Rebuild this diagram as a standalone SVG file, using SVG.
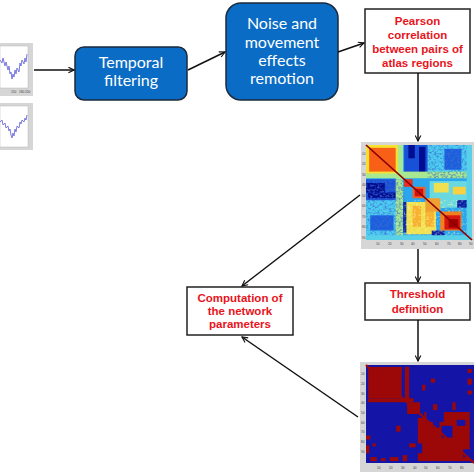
<svg xmlns="http://www.w3.org/2000/svg" width="474" height="474" viewBox="0 0 474 474">
<defs>
<marker id="ah" viewBox="0 0 10 10" refX="9" refY="5" markerWidth="7" markerHeight="7" orient="auto" markerUnits="userSpaceOnUse">
<path d="M1,1 L9,5 L1,9" fill="none" stroke="#111" stroke-width="1.6"/>
</marker>
<filter id="speck" x="0" y="0" width="100%" height="100%" filterUnits="objectBoundingBox">
<feTurbulence type="fractalNoise" baseFrequency="0.45" numOctaves="2" seed="7"/>
<feColorMatrix type="matrix" values="0 0 0 0 0.05  0 0 0 0 0.15  0 0 0 0 0.6  2.6 0 0 0 -1.1"/>
</filter>
<filter id="speck2" x="0" y="0" width="100%" height="100%" filterUnits="objectBoundingBox">
<feTurbulence type="fractalNoise" baseFrequency="0.4" numOctaves="2" seed="11"/>
<feColorMatrix type="matrix" values="0 0 0 0 1  0 0 0 0 0.95  0 0 0 0 0.4  0 2.6 0 0 -1.3"/>
</filter>
<style>
.blue{fill:#0a6cc4;stroke:#1b2a3c;stroke-width:1.5}
.wt{fill:#fff;font-family:Lato,"Open Sans",sans-serif;font-size:16px;text-anchor:middle}
.red{fill:#fff;stroke:#222;stroke-width:1.5}
.rt{fill:#e8141c;font-family:"Liberation Sans",Arial,sans-serif;font-weight:bold;font-size:11.5px;text-anchor:middle}
.con{stroke:#111;stroke-width:1.5;fill:none;marker-end:url(#ah)}
.tk{font-family:"Liberation Sans",Arial,sans-serif;font-size:3.2px;fill:#444}
.frame{fill:#d6d6d6}
</style>
</defs>
<rect width="474" height="474" fill="#fff"/>

<g id="signals">
<rect class="frame" x="0" y="43" width="33" height="53"/>
<rect x="0" y="46" width="28" height="42" fill="#fff" stroke="#aaa" stroke-width="0.4"/>
<polyline points="0,60 2,63 3,58 5,66 6,62 8,70 9,66 10,74 11,72 12,79 13,74 14,77 15,70 16,74 17,68 19,72 20,63 21,66 22,60 24,64 25,58 26,62 27,54" fill="none" stroke="#7878e0" stroke-width="1"/>
<text class="tk" x="11" y="93">150</text><text class="tk" x="19" y="93">180</text><text class="tk" x="25" y="93">200</text>
<rect class="frame" x="0" y="103" width="33" height="47"/>
<rect x="0" y="106" width="28" height="41" fill="#fff" stroke="#aaa" stroke-width="0.4"/>
<polyline points="0,122 2,120 3,125 5,123 6,128 8,126 9,131 10,129 11,135 12,138 13,133 14,136 15,129 16,132 17,126 19,128 20,122 21,124 22,120 24,122 25,118 26,120 27,115" fill="none" stroke="#7878e0" stroke-width="1"/>
</g>

<g id="temporal">
<rect class="blue" x="75" y="47" width="112" height="53" rx="9"/>
<text class="wt" x="131" y="68">Temporal</text>
<text class="wt" x="131" y="86">filtering</text>
</g>

<g id="noise">
<rect class="blue" x="226" y="3" width="112" height="97" rx="15"/>
<text class="wt" x="282" y="29">Noise and</text>
<text class="wt" x="282" y="48">movement</text>
<text class="wt" x="282" y="66">effects</text>
<text class="wt" x="282" y="84">remotion</text>
</g>

<g id="pearson">
<rect class="red" x="365" y="9" width="105" height="64"/>
<text class="rt" x="417.5" y="25">Pearson</text>
<text class="rt" x="417.5" y="39">correlation</text>
<text class="rt" x="417.5" y="53">between pairs of</text>
<text class="rt" x="417.5" y="67">atlas regions</text>
</g>

<g id="corr-matrix">
<rect class="frame" x="361" y="142" width="113" height="107"/>
<g transform="translate(366,145) scale(1.06,0.95)">
<rect width="100" height="100" fill="#2aa6ee"/>
<rect x="58" y="0" width="42" height="34" fill="#4ccdf2"/>
<rect x="0" y="58" width="34" height="42" fill="#4ccdf2"/>
<rect x="74" y="4" width="16" height="22" fill="#1a5ee0"/>
<rect x="4" y="74" width="22" height="16" fill="#1a5ee0"/>
<rect x="36" y="0" width="22" height="32" fill="#1850d8"/>
<rect x="0" y="36" width="32" height="22" fill="#1850d8"/>
<rect x="50" y="2" width="6" height="28" fill="#000c92"/>
<rect x="2" y="50" width="28" height="6" fill="#000c92"/>
<rect x="0" y="40" width="18" height="10" fill="#000c92"/>
<rect x="40" y="0" width="6" height="14" fill="#000c92"/>
<rect x="60" y="38" width="36" height="28" fill="#6ad8e0"/>
<rect x="38" y="60" width="28" height="34" fill="#f0e050"/>
<rect x="64" y="40" width="14" height="10" fill="#f0e050"/>
<rect x="82" y="44" width="12" height="8" fill="#f8d040"/>
<rect x="44" y="64" width="8" height="22" fill="#f8b030"/>
<rect x="56" y="66" width="8" height="20" fill="#f8b030"/>
<rect x="30" y="60" width="8" height="32" fill="#0a22a8"/>
<rect x="62" y="90" width="12" height="8" fill="#0a22a8"/>
<rect x="86" y="58" width="10" height="8" fill="#0a22a8"/>
<rect x="0" y="28" width="100" height="7" fill="#a8e890"/>
<rect x="28" y="0" width="7" height="100" fill="#a8e890"/>
<rect x="58" y="0" width="42" height="34" fill="#000" filter="url(#speck)" opacity="0.8"/>
<rect x="0" y="36" width="36" height="64" fill="#000" filter="url(#speck)" opacity="0.8"/>
<rect x="36" y="58" width="64" height="42" fill="#000" filter="url(#speck2)" opacity="0.7"/>
<rect x="0" y="0" width="30" height="30" fill="#f8e030"/>
<rect x="3" y="3" width="25" height="25" fill="#f86018"/>
<rect x="36" y="36" width="8" height="8" fill="#e83020"/>
<rect x="44" y="44" width="12" height="12" fill="#f06020"/>
<rect x="46" y="46" width="8" height="8" fill="#d01010"/>
<rect x="56" y="56" width="14" height="14" fill="#f0a030"/>
<rect x="70" y="70" width="20" height="20" fill="#f08020"/>
<rect x="74" y="74" width="15" height="15" fill="#d81810"/>
<rect x="78" y="78" width="9" height="9" fill="#a00000"/>
<rect x="0" y="95" width="100" height="5" fill="#58d0e8"/>
<rect x="95" y="0" width="5" height="100" fill="#58d0e8"/>
<line x1="0" y1="0" x2="100" y2="100" stroke="#8c0000" stroke-width="1.6"/>
</g>
<g class="tk">
<text x="362" y="155">10</text><text x="362" y="165">20</text><text x="362" y="176">30</text><text x="362" y="186">40</text><text x="362" y="197">50</text><text x="362" y="207">60</text><text x="362" y="218">70</text><text x="362" y="228">80</text><text x="362" y="239">90</text>
<text x="376" y="245">10</text><text x="388" y="245">20</text><text x="400" y="245">30</text><text x="411" y="245">40</text><text x="423" y="245">50</text><text x="435" y="245">60</text><text x="447" y="245">70</text><text x="458" y="245">80</text><text x="469" y="245">90</text>
</g>
</g>

<g id="threshold">
<rect class="red" x="365" y="283" width="105" height="37"/>
<text class="rt" x="417.5" y="298">Threshold</text>
<text class="rt" x="417.5" y="313">definition</text>
</g>

<g id="binary-matrix">
<rect class="frame" x="360" y="362" width="114" height="110"/>
<g transform="translate(366,365) scale(1.08,0.98)">
<rect width="100" height="100" fill="#1414a6"/>
<g fill="#9c0808">
<rect x="2" y="2" width="31" height="32"/>
<rect x="2" y="34" width="42" height="4"/>
<rect x="36" y="2" width="4" height="36"/>
<rect x="38" y="38" width="12" height="12"/>
<rect x="48" y="48" width="48" height="50"/>
<rect x="44" y="44" width="6" height="6"/>
<rect x="30" y="2" width="3" height="6"/>
<rect x="94" y="4" width="4" height="4"/>
<rect x="94" y="14" width="4" height="6"/>
<rect x="94" y="26" width="4" height="4"/>
<rect x="0" y="72" width="4" height="4"/>
<rect x="0" y="82" width="3" height="8"/>
<rect x="4" y="94" width="6" height="4"/>
<rect x="14" y="95" width="4" height="3"/>
<rect x="22" y="94" width="8" height="4"/>
<rect x="34" y="92" width="4" height="6"/>
<rect x="28" y="62" width="4" height="6"/>
<rect x="6" y="80" width="3" height="3"/>
<rect x="40" y="80" width="6" height="4"/>
<rect x="62" y="40" width="4" height="6"/>
<rect x="80" y="38" width="3" height="8"/>
<rect x="60" y="14" width="4" height="4"/>
<rect x="52" y="20" width="3" height="6"/>
</g>
<g fill="#1414a6">
<rect x="56" y="48" width="16" height="10"/>
<rect x="62" y="58" width="6" height="6"/>
<rect x="70" y="62" width="10" height="12"/>
<rect x="48" y="48" width="6" height="6"/>
<rect x="84" y="56" width="8" height="6"/>
<rect x="90" y="86" width="6" height="8"/>
<rect x="48" y="80" width="4" height="10"/>
</g>
<line x1="0" y1="0" x2="100" y2="100" stroke="#9c0808" stroke-width="2"/>
</g>
<g class="tk">
<text x="361" y="375">10</text><text x="361" y="385">20</text><text x="361" y="395">30</text><text x="361" y="404">40</text><text x="361" y="414">50</text><text x="361" y="424">60</text><text x="361" y="433">70</text><text x="361" y="443">80</text><text x="361" y="453">90</text>
<text x="377" y="469">10</text><text x="389" y="469">20</text><text x="401" y="469">30</text><text x="413" y="469">40</text><text x="424" y="469">50</text><text x="436" y="469">60</text><text x="448" y="469">70</text><text x="460" y="469">80</text>
</g>
</g>

<g id="computation">
<rect class="red" x="187" y="287" width="106" height="48"/>
<text class="rt" x="240" y="302">Computation of</text>
<text class="rt" x="240" y="315">the network</text>
<text class="rt" x="240" y="328">parameters</text>
</g>

<g id="connectors">
<line class="con" x1="34" y1="70" x2="74" y2="70"/>
<line class="con" x1="188" y1="70" x2="225" y2="52"/>
<line class="con" x1="338" y1="52" x2="364" y2="43"/>
<line class="con" x1="418" y1="73" x2="418" y2="141"/>
<line class="con" x1="418" y1="249" x2="418" y2="282"/>
<line class="con" x1="418" y1="320" x2="418" y2="361"/>
<line class="con" x1="360" y1="195" x2="242" y2="286"/>
<line class="con" x1="358" y1="417" x2="242" y2="337"/>
</g>
</svg>
